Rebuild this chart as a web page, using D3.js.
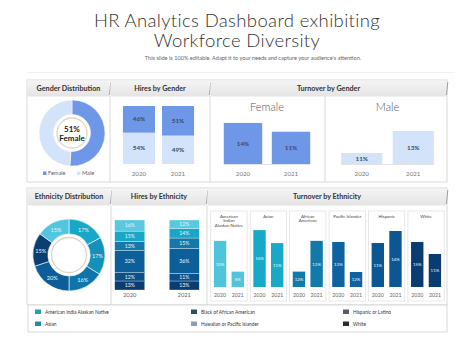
<!DOCTYPE html>
<html><head><meta charset="utf-8">
<script src="https://cdn.jsdelivr.net/npm/d3@7"></script>
<style>body{margin:0;background:#fff}svg{display:block}text{font-family:Lato,"Open Sans",sans-serif}</style>
</head><body><svg id="c" width="474" height="355"></svg>
<script>
// ---------- data ----------
const genderLabels = ["Female", "Male"];
const genderShare = [51, 49];
const years = ["2020", "2021"];
const hiresFemale = [46, 51];
const hiresMale = [54, 49];
const turnoverFemale = [14, 11];
const turnoverMale = [11, 13];
const ethnicShare = [17, 17, 16, 20, 15, 15];           // clockwise from top
const hiresEth2020 = [13, 12, 32, 13, 15, 16];           // bottom to top
const hiresEth2021 = [13, 11, 36, 15, 14, 12];
const turnoverGroups = ["American|Indian|Alaskan Native", "Asian", "African|American", "Pacific Islander", "Hispanic", "White"];
const turnoverEth2020 = [10, 16, 12, 13, 11, 15];
const turnoverEth2021 = [8, 11, 13, 12, 14, 11];
const turnoverEthAxis = [[7, 10.9], [-5.9, 17.2], [11.5, 13.45], [11.5, 13.5], [0, 15], [0, 20]];
const legendLabels = ["American India Alaskan Native", "Asian", "Black of African American", "Hawaiian or Pacific Islander", "Hispanic or Latino", "White"];

// ---------- styles ----------
const cFemale = "#6e97e8", cMale = "#d3e4fa";
const donutEthColors = ["#17a7c8", "#1590b8", "#0f74a9", "#0d5d98", "#0b3f74", "#52c6de"];
const stackEthColors = ["#0b3c70", "#0c5088", "#0d5f9a", "#1479aa", "#19a6c7", "#5ac8de"];
const turnEthColors = ["#4fc4dc", "#18a8c8", "#117aaa", "#0e62a0", "#0c5793", "#0a3c70"];
const legendColors = ["#1ea6a4", "#1e8fa5", "#2f5062", "#8b9dba", "#565d68", "#2c2e33"];

const svg = d3.select("#c");
const defs = svg.append("defs");
const g = defs.append("linearGradient").attr("id", "hdr").attr("x1", 0).attr("y1", 0).attr("x2", 0).attr("y2", 1);
g.append("stop").attr("offset", 0).attr("stop-color", "#f4f4f4");
g.append("stop").attr("offset", 1).attr("stop-color", "#e4e4e4");

// ---------- title ----------
svg.append("text").attr("x", 237).attr("y", 27).attr("text-anchor", "middle")
  .attr("font-size", 18.5).attr("font-weight", 300).attr("letter-spacing", 0.35).attr("fill", "#333").text("HR Analytics Dashboard exhibiting");
svg.append("text").attr("x", 237).attr("y", 47).attr("text-anchor", "middle")
  .attr("font-size", 18.5).attr("font-weight", 300).attr("letter-spacing", 0.35).attr("fill", "#333").text("Workforce Diversity");
svg.append("text").attr("x", 253).attr("y", 59.5).attr("text-anchor", "middle")
  .attr("font-size", 5.6).attr("fill", "#666")
  .text("This slide is 100% editable. Adapt it to your needs and capture your audience's attention.");
svg.append("line").attr("x1", 28).attr("x2", 455).attr("y1", 72.5).attr("y2", 72.5).attr("stroke", "#f0f0f0");

// ---------- panel helper ----------
function row(y0, hh, y1, cuts, titles) {
  svg.append("rect").attr("x", cuts[0]).attr("y", y0).attr("width", cuts[cuts.length - 1] - cuts[0]).attr("height", y1 - y0)
    .attr("fill", "#fff").attr("stroke", "#cfcfcf").attr("stroke-width", 0.8);
  titles.forEach((t, i) => {
    const a = cuts[i], b = cuts[i + 1];
    svg.append("rect").attr("x", a + 0.5).attr("y", y0 + 0.5).attr("width", b - a - 1).attr("height", hh).attr("fill", "url(#hdr)");
    svg.append("line").attr("x1", b - 0.5).attr("y1", y0 + hh - 1).attr("x2", b + 0.8).attr("y2", y0 + 2)
      .attr("stroke", "#8a8a8a").attr("stroke-width", 0.8);
    svg.append("text").attr("x", (a + b) / 2).attr("y", y0 + hh / 2 + 2.6).attr("text-anchor", "middle")
      .attr("font-size", 7.2).attr("font-weight", 700).attr("fill", "#333").text(t);
    if (i > 0) svg.append("line").attr("x1", a).attr("x2", a).attr("y1", y0 + hh).attr("y2", y1)
      .attr("stroke", "#cfcfcf").attr("stroke-width", 0.8);
  });
}
row(80, 16, 182, [27, 110, 210, 447], ["Gender Distribution", "Hires by Gender", "Turnover by Gender"]);
row(188, 17, 305, [27, 111, 207, 447], ["Ethnicity Distribution", "Hires by Ethnicity", "Turnover by Ethnicity"]);

// ---------- gender donut ----------
const pie = d3.pie().sort(null).value(d => d);
const gd = svg.append("g").attr("transform", "translate(72,133)");
const arcG = d3.arc().innerRadius(18.5).outerRadius(33);
gd.selectAll("path").data(pie(genderShare)).join("path").attr("d", arcG)
  .attr("fill", (d, i) => i === 0 ? cFemale : cMale).attr("stroke", "#fff").attr("stroke-width", 0.5);
gd.append("circle").attr("r", 15).attr("fill", "#fff").attr("stroke", "#ddd5c8").attr("stroke-width", 1.3);
gd.append("text").attr("y", -1).attr("text-anchor", "middle").attr("font-size", 8).attr("font-weight", 700).attr("fill", "#222").text(genderShare[0] + "%");
gd.append("text").attr("y", 8).attr("text-anchor", "middle").attr("font-size", 8).attr("font-weight", 700).attr("fill", "#222").text(genderLabels[0]);
const gl = svg.append("g");
[[43, 0], [77, 1]].forEach(([x, i]) => {
  gl.append("rect").attr("x", x).attr("y", 171.5).attr("width", 3.5).attr("height", 3.5).attr("fill", i === 0 ? cFemale : cMale);
  gl.append("text").attr("x", x + 5).attr("y", 175).attr("font-size", 5.6).attr("fill", "#666").text(genderLabels[i]);
});

// ---------- hires by gender ----------
const xHG = d3.scaleBand().domain(years).range([121, 196]).paddingInner(0.18).paddingOuter(0.05);
const yHG = d3.scaleLinear().domain([0, 100]).range([164, 106]);
years.forEach((yr, i) => {
  const segs = [{v0: 0, v1: hiresMale[i], c: cMale, lab: hiresMale[i]}, {v0: hiresMale[i], v1: 100, c: cFemale, lab: hiresFemale[i]}];
  segs.forEach(s => {
    svg.append("rect").attr("x", xHG(yr)).attr("width", xHG.bandwidth()).attr("y", yHG(s.v1)).attr("height", yHG(s.v0) - yHG(s.v1)).attr("fill", s.c);
    svg.append("text").attr("x", xHG(yr) + xHG.bandwidth() / 2).attr("y", (yHG(s.v0) + yHG(s.v1)) / 2 + 2).attr("text-anchor", "middle")
      .attr("font-size", 6.3).attr("font-weight", 700).attr("fill", "#3b4a66").text(s.lab + "%");
  });
  svg.append("text").attr("x", xHG(yr) + xHG.bandwidth() / 2).attr("y", 176).attr("text-anchor", "middle").attr("font-size", 6.2).attr("fill", "#777").text(yr);
});

// ---------- turnover by gender ----------
svg.append("line").attr("x1", 325).attr("x2", 325).attr("y1", 96).attr("y2", 182).attr("stroke", "#cfcfcf").attr("stroke-width", 0.8);
function genderTurn(x0, x1, name, vals, dom, color) {
  const x = d3.scaleBand().domain(years).range([x0, x1]).paddingInner(0.2).paddingOuter(0.12);
  const y = d3.scaleLinear().domain(dom).range([164, 120]);
  svg.append("text").attr("x", (x0 + x1) / 2).attr("y", 110.5).attr("text-anchor", "middle").attr("font-size", 11).attr("font-weight", 300).attr("fill", "#555").text(name);
  svg.append("line").attr("x1", x0 + 6).attr("x2", x1 - 6).attr("y1", 164.5).attr("y2", 164.5).attr("stroke", "#e3e3e3");
  years.forEach((yr, i) => {
    svg.append("rect").attr("x", x(yr)).attr("width", x.bandwidth()).attr("y", y(vals[i])).attr("height", y(dom[0]) - y(vals[i])).attr("fill", color);
    svg.append("text").attr("x", x(yr) + x.bandwidth() / 2).attr("y", Math.min((y(vals[i]) + 164) / 2 + 2.2, 162)).attr("text-anchor", "middle")
      .attr("font-size", 6.3).attr("font-weight", 700).attr("fill", "#3b4a66").text(vals[i] + "%");
    svg.append("text").attr("x", x(yr) + x.bandwidth() / 2).attr("y", 176).attr("text-anchor", "middle").attr("font-size", 6.2).attr("fill", "#777").text(yr);
  });
}
genderTurn(218, 316, genderLabels[0], turnoverFemale, [0, 15], cFemale);
genderTurn(335, 440, genderLabels[1], turnoverMale, [10, 14], cMale);

// ---------- ethnicity donut ----------
const ed = svg.append("g").attr("transform", "translate(69,255)");
const arcE = d3.arc().innerRadius(21).outerRadius(36);
const ePie = pie(ethnicShare);
ed.selectAll("path").data(ePie).join("path").attr("d", arcE).attr("fill", (d, i) => donutEthColors[i]).attr("stroke", "#fff").attr("stroke-width", 0.6);
ed.selectAll("text").data(ePie).join("text").attr("transform", d => `translate(${arcE.centroid(d)})`).attr("dy", 2)
  .attr("text-anchor", "middle").attr("font-size", 5.6).attr("fill", "#e8f6fb").text(d => d.data + "%");
ed.append("circle").attr("r", 17.5).attr("fill", "#fff").attr("stroke", "#ddd5c8").attr("stroke-width", 1.3);

// ---------- hires by ethnicity ----------
const xHE = d3.scaleBand().domain(years).range([112, 202]).paddingInner(0.45).paddingOuter(0.05);
const yHE = d3.scaleLinear().domain([0, 101]).range([290, 220]);
[hiresEth2020, hiresEth2021].forEach((vals, i) => {
  let acc = 0;
  vals.forEach((v, j) => {
    const a = acc; acc += v;
    svg.append("rect").attr("x", xHE(years[i])).attr("width", xHE.bandwidth()).attr("y", yHE(acc)).attr("height", yHE(a) - yHE(acc))
      .attr("fill", stackEthColors[j]).attr("stroke", "#fff").attr("stroke-width", 0.3);
    svg.append("text").attr("x", xHE(years[i]) + xHE.bandwidth() / 2).attr("y", (yHE(a) + yHE(acc)) / 2 + 1.8).attr("text-anchor", "middle")
      .attr("font-size", 5.2).attr("fill", "#e6f5fa").text(v + "%");
  });
  svg.append("text").attr("x", xHE(years[i]) + xHE.bandwidth() / 2).attr("y", 297).attr("text-anchor", "middle").attr("font-size", 5.8).attr("fill", "#666").text(years[i]);
});

// ---------- turnover by ethnicity ----------
const xTE = d3.scaleBand().domain(d3.range(turnoverGroups.length)).range([210, 445]).paddingInner(0.08).paddingOuter(0.02);
turnoverGroups.forEach((grp, k) => {
  const px = xTE(k), pw = xTE.bandwidth();
  svg.append("rect").attr("x", px).attr("y", 211).attr("width", pw).attr("height", 90).attr("fill", "#fff").attr("stroke", "#dedede").attr("stroke-width", 0.7);
  grp.split("|").forEach((ln, li) => {
    svg.append("text").attr("x", px + pw / 2).attr("y", 217.5 + li * 4.8).attr("text-anchor", "middle").attr("font-size", 4.3).attr("fill", "#444").text(ln);
  });
  const xb = d3.scaleBand().domain(years).range([px + 1, px + pw - 1]).paddingInner(0.3).paddingOuter(0.12);
  const yb = d3.scaleLinear().domain(turnoverEthAxis[k]).range([287, 227]);
  [turnoverEth2020[k], turnoverEth2021[k]].forEach((v, i) => {
    svg.append("rect").attr("x", xb(years[i])).attr("width", xb.bandwidth()).attr("y", yb(v)).attr("height", 287 - yb(v)).attr("fill", turnEthColors[k]);
    svg.append("text").attr("x", xb(years[i]) + xb.bandwidth() / 2).attr("y", Math.min((yb(v) + 287) / 2 + 1.6, 284)).attr("text-anchor", "middle")
      .attr("font-size", 4.4).attr("fill", "#eaf6fb").text(v + "%");
    svg.append("text").attr("x", xb(years[i]) + xb.bandwidth() / 2).attr("y", 296.5).attr("text-anchor", "middle").attr("font-size", 5.2).attr("fill", "#666").text(years[i]);
  });
});

// ---------- legend ----------
svg.append("rect").attr("x", 28).attr("y", 305).attr("width", 419).attr("height", 27).attr("fill", "#fff").attr("stroke", "#cfcfcf").attr("stroke-width", 0.8);
const legX = [35, 191, 343];
legendLabels.forEach((t, i) => {
  const cx = legX[Math.floor(i / 2)], cy = i % 2 === 0 ? 312 : 324;
  svg.append("rect").attr("x", cx).attr("y", cy - 2.5).attr("width", 6).attr("height", 4.5).attr("fill", legendColors[i]);
  svg.append("text").attr("x", cx + 10).attr("y", cy + 1.6).attr("font-size", 4.8).attr("fill", "#333").text(t);
});
</script></body></html>
